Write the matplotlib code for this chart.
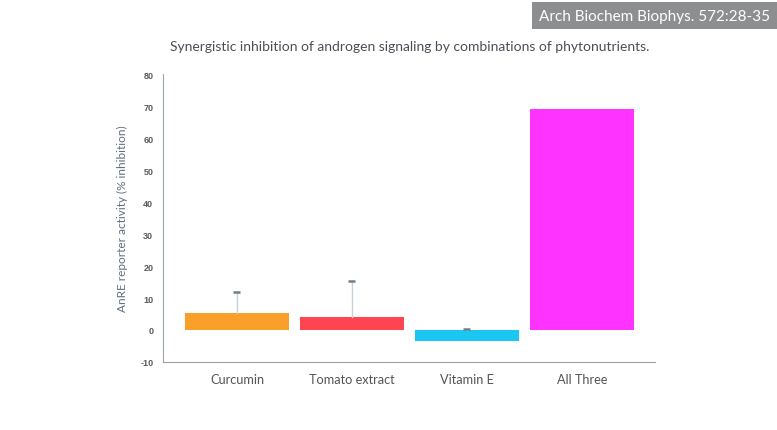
import matplotlib
matplotlib.use("Agg")
import matplotlib.pyplot as plt
from matplotlib.patches import Rectangle

# values
categories = ["Curcumin", "Tomato extract", "Vitamin E", "All Three"]
inhibition = [5.3, 4.2, -3.4, 69.0]
err_upper = [6.6, 11.2, 3.6, 0.0]
bar_colors = ["#F9A02A", "#FF4552", "#1CC6F2", "#FF33FF"]
y_ticks = [-10, 0, 10, 20, 30, 40, 50, 60, 70, 80]

fig = plt.figure(figsize=(7.77, 4.31), dpi=100)
ax = fig.add_axes([0.2098, 0.1578, 0.633, 0.668])

# spine setup first: set_position resets the tick objects
for s in ["top", "right"]:
    ax.spines[s].set_visible(False)
ax.spines["left"].set_color("#9AA5AE")
ax.spines["bottom"].set_color("#A0A0A0")
ax.spines["bottom"].set_position(("data", -10))

x = list(range(len(categories)))
ax.bar(x, inhibition, width=0.91, color=bar_colors, zorder=2)
# upper error bars only: thin light stem + small dark cap
for xi, v, e in zip(x, inhibition, err_upper):
    if e <= 0:
        continue
    start = max(v, 0)
    ax.plot([xi, xi], [start, v + e], color="#C5D0D8", lw=1, zorder=3)
    ax.plot([xi - 0.03, xi + 0.03], [v + e, v + e], color="#6F7F8C", lw=1.8,
            solid_capstyle="butt", zorder=4)

ax.set_xlim(-0.643, 3.635)
ax.set_ylim(-10, 80)
ax.set_yticks(y_ticks)
ax.set_yticklabels([str(t) for t in y_ticks], fontsize=6.5, weight="bold",
                   family="Liberation Sans")
ax.set_xticks(x)
ax.set_xticklabels(categories, fontsize=9.2, family="Lato")
ax.tick_params(axis="both", length=0)
ax.tick_params(axis="y", pad=7, labelcolor="#5A5A5A")
ax.tick_params(axis="x", pad=8, labelcolor="#555555")

ax.set_ylabel("AnRE reporter activity (% inhibition)", fontsize=8.5,
              color="#5E6E80", family="Lato", labelpad=9)

fig.text(0.527, 0.891,
         "Synergistic inhibition of androgen signaling by combinations of phytonutrients.",
         ha="center", va="center", fontsize=10, color="#4A4F57", family="Lato")

# citation box in the top-right corner
fig.add_artist(Rectangle((532 / 777, 1 - 30 / 431), 1 - 532 / 777, 27 / 431,
                         transform=fig.transFigure, facecolor="#8C8E90",
                         edgecolor="none"))
fig.text(0.991, 1 - 16.5 / 431, "Arch Biochem Biophys. 572:28-35", ha="right",
         va="center", fontsize=11, color="white", family="Lato")

fig.savefig("out.png", dpi=100)
